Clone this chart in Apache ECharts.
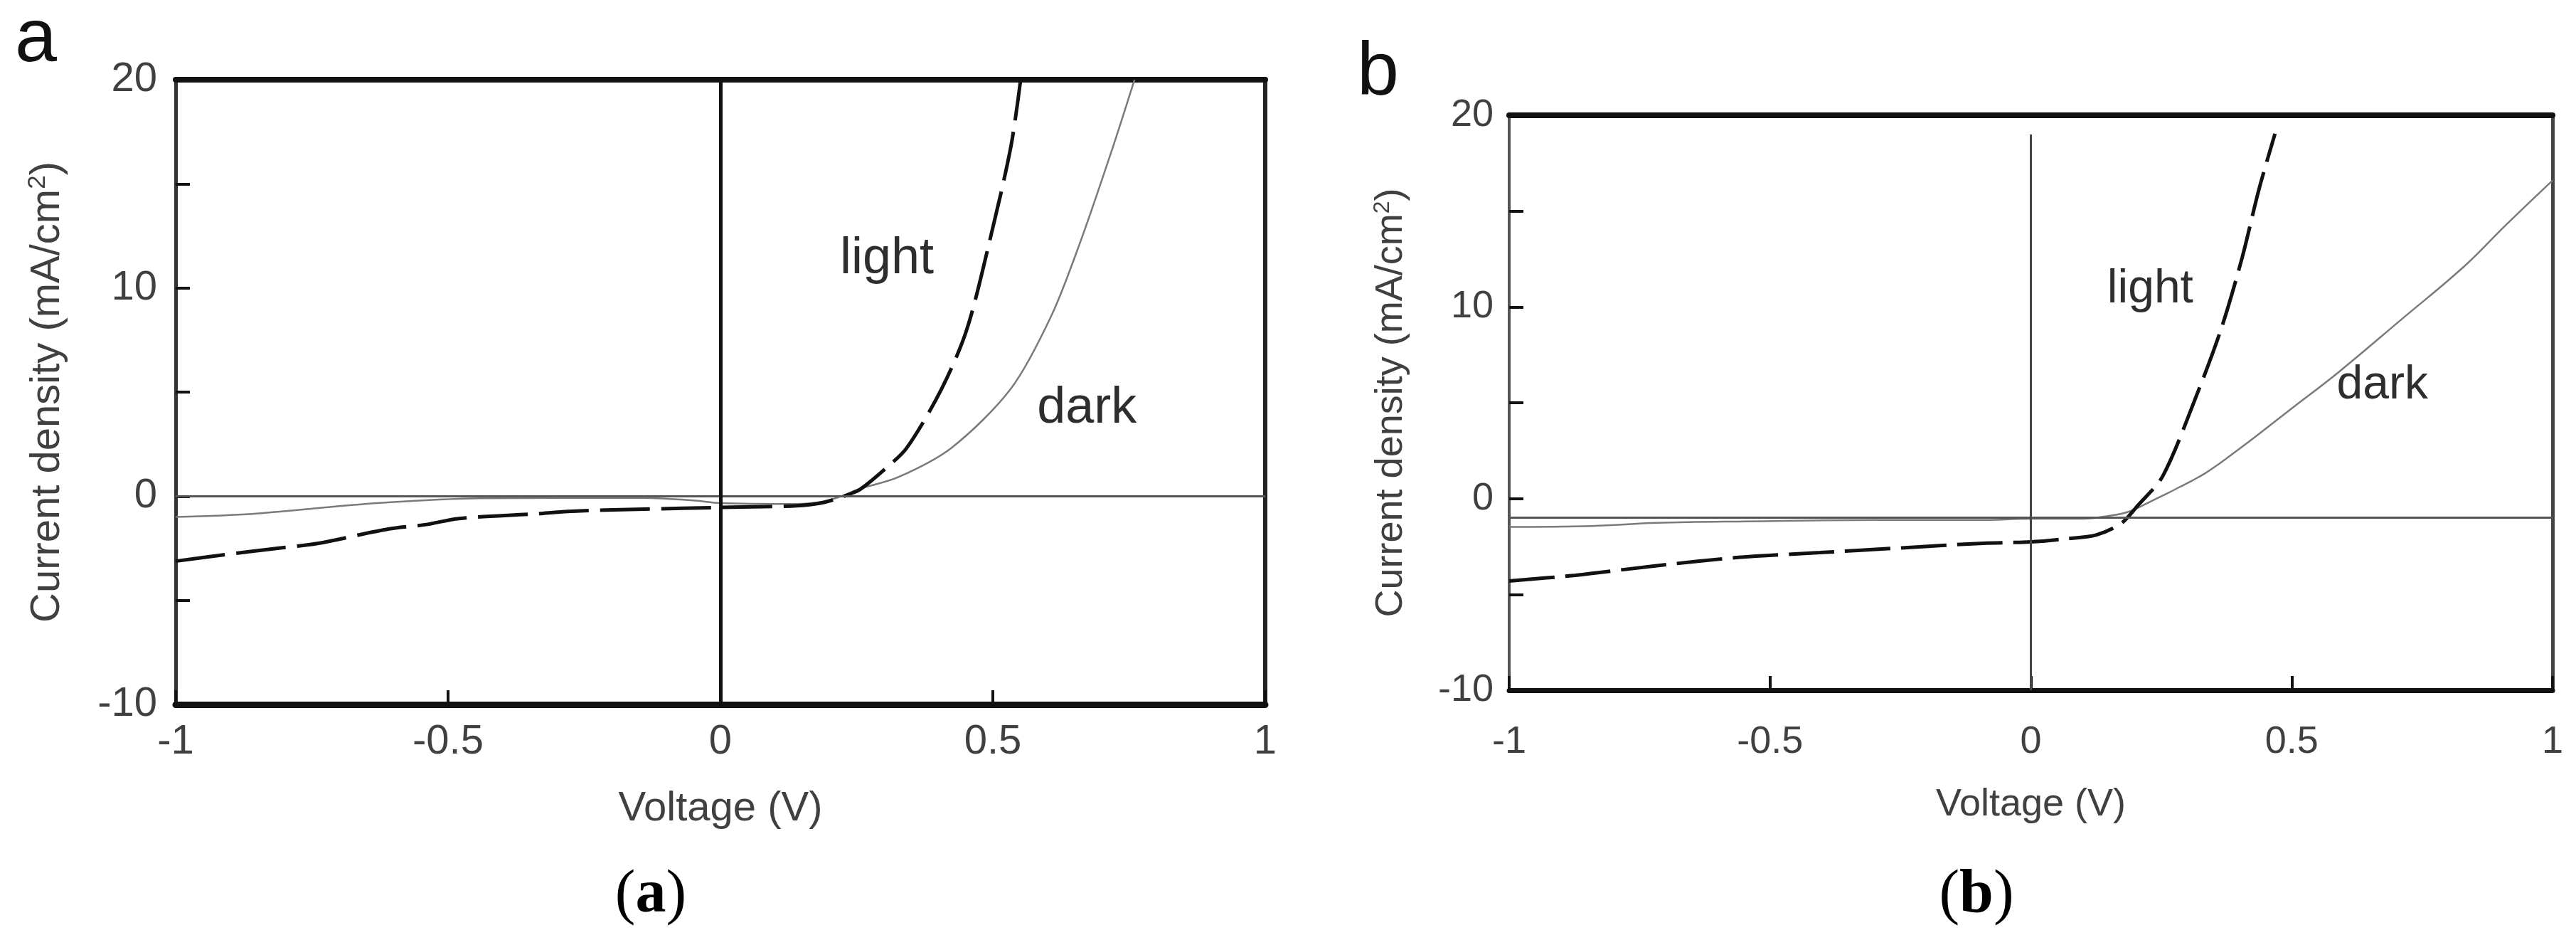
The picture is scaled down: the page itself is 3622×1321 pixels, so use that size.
<!DOCTYPE html>
<html>
<head>
<meta charset="utf-8">
<script src="https://cdn.jsdelivr.net/npm/echarts@6/dist/echarts.min.js"></script>
<style>
html,body{margin:0;padding:0;background:#fff;}
#chart{width:3622px;height:1321px;}
</style>
</head>
<body>
<div id="chart"></div>
<script>
// ---------- data ----------
// Panel (a)
const A_LIGHT_V = [-1.0, -0.92, -0.81, -0.74, -0.61, -0.54, -0.48, -0.34, -0.28, -0.14, 0.0, 0.08, 0.14, 0.18, 0.21, 0.235, 0.257, 0.303, 0.342, 0.406, 0.452, 0.494, 0.533, 0.551];
const A_LIGHT_J = [-3.12, -2.84, -2.49, -2.27, -1.58, -1.36, -1.07, -0.85, -0.73, -0.62, -0.54, -0.5, -0.46, -0.35, -0.15, 0.08, 0.34, 1.33, 2.32, 5.16, 7.99, 12.24, 16.77, 20.0];
const A_DARK_V = [-1.0, -0.86, -0.71, -0.63, -0.54, -0.44, -0.14, -0.05, 0.0, 0.14, 0.19, 0.22, 0.254, 0.326, 0.424, 0.533, 0.608, 0.661, 0.717, 0.76];
const A_DARK_J = [-1.0, -0.85, -0.5, -0.33, -0.19, -0.1, -0.08, -0.2, -0.33, -0.37, -0.25, -0.02, 0.34, 0.91, 2.32, 5.16, 8.7, 12.24, 16.5, 20.0];
// Panel (b)
const B_LIGHT_V = [-1.0, -0.873, -0.717, -0.56, -0.404, -0.247, -0.091, 0.0, 0.066, 0.125, 0.173, 0.205, 0.253, 0.317, 0.365, 0.405, 0.437, 0.468];
const B_LIGHT_J = [-4.3, -4.0, -3.5, -3.07, -2.82, -2.57, -2.33, -2.26, -2.1, -1.9, -1.3, -0.36, 1.18, 5.34, 8.87, 12.57, 16.11, 19.04];
const B_DARK_V = [-1.0, -0.842, -0.717, -0.545, -0.287, -0.099, 0.0, 0.1, 0.15, 0.189, 0.237, 0.26, 0.285, 0.31, 0.333, 0.36, 0.39, 0.429, 0.5, 0.59, 0.71, 0.83, 0.91, 1.0];
const B_DARK_J = [-1.48, -1.43, -1.27, -1.19, -1.12, -1.12, -1.05, -1.05, -0.9, -0.67, -0.05, 0.25, 0.6, 0.95, 1.3, 1.8, 2.4, 3.2, 4.7, 6.6, 9.34, 12.1, 14.26, 16.6];

// axes
const X_MIN = -1, X_MAX = 1, X_STEP = 0.5;
const Y_MIN = -10, Y_MAX = 20, Y_STEP = 5, Y_LABEL_STEP = 10;
const X_NAME = 'Voltage (V)';
const Y_NAME = 'Current density (mA/cm{sup|2})';

// reference lines
const A_HLINE = 0, A_VLINE = 0;
const B_HLINE = -1, B_VLINE = 0, B_VLINE_TOP = 19;

// curve labels (data coordinates of label left/middle)
const A_NOTES = [['light', 0.218, 11.4], ['dark', 0.58, 4.2]];
const B_NOTES = [['light', 0.145, 10.9], ['dark', 0.585, 5.9]];

const PANEL_TAGS = ['a', 'b'];
const CAPTIONS = ['a', 'b'];

// ---------- chart ----------
const zip = (v, j) => v.map((x, i) => [x, j[i]]);
const FONT = '"Liberation Sans", Arial, Helvetica, sans-serif';
const SERIF = '"Liberation Serif", "Times New Roman", serif';

const grids = [
  {left: 247, top: 112, width: 1532, height: 878, fs: 58, xMargin: 24, yMargin: 26, xGap: 118, yGap: 150},
  {left: 2122, top: 162, width: 1467, height: 808, fs: 54, xMargin: 46, yMargin: 22, xGap: 134, yGap: 138}
];
const frame = [
  {top: {c: '#111', w: 8}, bottom: {c: '#111', w: 9}, left: {c: '#333', w: 5}, right: {c: '#222', w: 6}},
  {top: {c: '#111', w: 8}, bottom: {c: '#111', w: 7}, left: {c: '#555', w: 4}, right: {c: '#444', w: 5}}
];

const xAxes = [], yAxes = [];
grids.forEach((g, i) => {
  const f = frame[i];
  xAxes.push({
    gridIndex: i, type: 'value', min: X_MIN, max: X_MAX, interval: X_STEP, position: 'bottom',
    axisLine: {show: true, onZero: false, lineStyle: {color: f.bottom.c, width: f.bottom.w}},
    axisTick: {show: true, inside: true, length: 20, lineStyle: {color: '#111', width: 4}},
    axisLabel: {margin: g.xMargin, fontSize: g.fs, color: '#404040', fontFamily: FONT,
      formatter: v => String(v)},
    splitLine: {show: false},
    name: X_NAME, nameLocation: 'middle', nameGap: g.xGap,
    nameTextStyle: {fontSize: g.fs, color: '#404040', fontFamily: FONT}
  });
  xAxes.push({
    gridIndex: i, type: 'value', min: X_MIN, max: X_MAX, interval: X_STEP, position: 'top',
    axisLine: {show: true, onZero: false, lineStyle: {color: f.top.c, width: f.top.w}},
    axisTick: {show: false}, axisLabel: {show: false}, splitLine: {show: false}
  });
  yAxes.push({
    gridIndex: i, type: 'value', min: Y_MIN, max: Y_MAX, interval: Y_STEP, position: 'left',
    axisLine: {show: true, onZero: false, lineStyle: {color: f.left.c, width: f.left.w}},
    axisTick: {show: true, inside: true, length: 20, lineStyle: {color: '#111', width: 4}},
    axisLabel: {margin: g.yMargin, fontSize: g.fs, color: '#404040', fontFamily: FONT,
      formatter: v => (v % Y_LABEL_STEP === 0 ? String(v) : '')},
    splitLine: {show: false},
    name: Y_NAME, nameLocation: 'middle', nameGap: g.yGap, nameRotate: 90,
    nameTextStyle: {fontSize: g.fs, color: '#404040', fontFamily: FONT,
      rich: {sup: {fontSize: Math.round(g.fs * 0.6), color: '#404040', fontFamily: FONT, verticalAlign: 'top', padding: [0, 0, Math.round(g.fs*0.45), 0]}}}
  });
  yAxes.push({
    gridIndex: i, type: 'value', min: Y_MIN, max: Y_MAX, interval: Y_STEP, position: 'right',
    axisLine: {show: true, onZero: false, lineStyle: {color: f.right.c, width: f.right.w}},
    axisTick: {show: false}, axisLabel: {show: false}, splitLine: {show: false}
  });
});

function notes(list, fs) {
  return {
    silent: true, symbol: 'circle', symbolSize: 2,
    itemStyle: {color: 'rgba(0,0,0,0)'},
    label: {show: true, position: 'right', distance: 0, align: 'left', verticalAlign: 'middle',
      fontSize: fs, color: '#2e2e2e', fontFamily: FONT, formatter: p => p.name},
    data: list.map(n => ({name: n[0], coord: [n[1], n[2]]}))
  };
}

const series = [
  {
    type: 'line', xAxisIndex: 0, yAxisIndex: 0, data: zip(A_DARK_V, A_DARK_J),
    symbol: 'none', smooth: 0.3, lineStyle: {color: '#7a7a7a', width: 2.5}, z: 2,
    markLine: {
      silent: true, symbol: ['none', 'none'], label: {show: false}, animation: false,
      data: [
        [{coord: [X_MIN, A_HLINE], lineStyle: {color: '#555', width: 3, type: 'solid'}}, {coord: [X_MAX, A_HLINE]}],
        [{coord: [A_VLINE, Y_MIN], lineStyle: {color: '#111', width: 5, type: 'solid'}}, {coord: [A_VLINE, Y_MAX]}]
      ]
    },
    markPoint: notes(A_NOTES, 72)
  },
  {
    type: 'line', xAxisIndex: 0, yAxisIndex: 0, data: zip(A_LIGHT_V, A_LIGHT_J),
    symbol: 'none', smooth: 0.3, lineStyle: {color: '#111', width: 5, type: [70, 16]}, z: 3
  },
  {
    type: 'line', xAxisIndex: 2, yAxisIndex: 2, data: zip(B_DARK_V, B_DARK_J),
    symbol: 'none', smooth: 0.4, lineStyle: {color: '#7a7a7a', width: 2.5}, z: 2,
    markLine: {
      silent: true, symbol: ['none', 'none'], label: {show: false}, animation: false,
      data: [
        [{coord: [X_MIN, B_HLINE], lineStyle: {color: '#555', width: 3, type: 'solid'}}, {coord: [X_MAX, B_HLINE]}],
        [{coord: [B_VLINE, Y_MIN], lineStyle: {color: '#444', width: 3, type: 'solid'}}, {coord: [B_VLINE, B_VLINE_TOP]}]
      ]
    },
    markPoint: notes(B_NOTES, 66)
  },
  {
    type: 'line', xAxisIndex: 2, yAxisIndex: 2, data: zip(B_LIGHT_V, B_LIGHT_J),
    symbol: 'none', smooth: 0.3, lineStyle: {color: '#111', width: 5, type: [64, 15]}, z: 3
  }
];

const graphic = [
  {type: 'text', x: 21, y: 4, style: {text: PANEL_TAGS[0], font: '106px ' + FONT, fill: '#111', align: 'left', verticalAlign: 'top'}},
  {type: 'text', x: 1908, y: 51, style: {text: PANEL_TAGS[1], font: '106px ' + FONT, fill: '#111', align: 'left', verticalAlign: 'top'}},
  {type: 'text', x: 915, y: 1216, style: {text: '{p|(}{b|' + CAPTIONS[0] + '}{p|)}', align: 'center', verticalAlign: 'top',
    rich: {p: {font: '86px ' + SERIF, fill: '#000'}, b: {font: 'bold 86px ' + SERIF, fill: '#000'}}}},
  {type: 'text', x: 2779, y: 1216, style: {text: '{p|(}{b|' + CAPTIONS[1] + '}{p|)}', align: 'center', verticalAlign: 'top',
    rich: {p: {font: '86px ' + SERIF, fill: '#000'}, b: {font: 'bold 86px ' + SERIF, fill: '#000'}}}}
];

const chart = echarts.init(document.getElementById('chart'), null, {renderer: 'canvas'});
chart.setOption({
  animation: false,
  backgroundColor: '#fff',
  grid: grids.map(g => ({left: g.left, top: g.top, width: g.width, height: g.height, containLabel: false, outerBoundsMode: 'none'})),
  xAxis: xAxes,
  yAxis: yAxes,
  series: series,
  graphic: graphic
});
</script>
</body>
</html>
